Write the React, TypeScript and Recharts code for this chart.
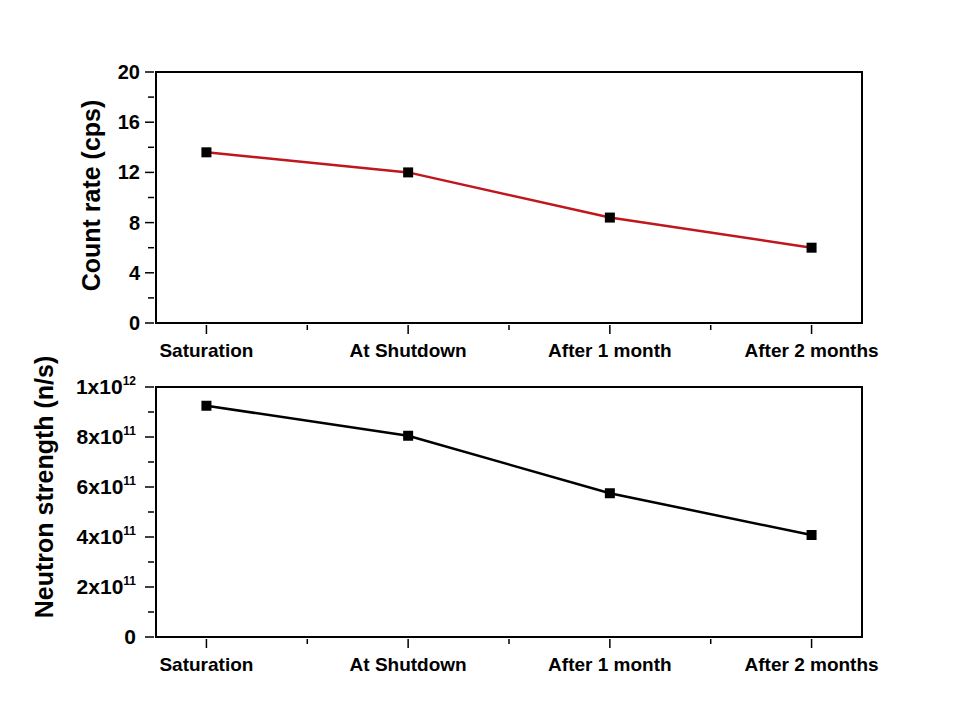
import { LineChart, Line, XAxis, YAxis, ReferenceArea } from "recharts";

// --- Data ---

const categories = ["Saturation", "At Shutdown", "After 1 month", "After 2 months"];
const countRate = [13.6, 12.0, 8.4, 6.0];
const neutronStrength = [9.25e11, 8.05e11, 5.75e11, 4.08e11];

// category positions sit on whole numbers, minor ticks halfway between
const xTicks = [0, 0.5, 1, 1.5, 2, 2.5, 3];
const xDomain: [number, number] = [-0.25, 3.25];
const countTicks = [0, 2, 4, 6, 8, 10, 12, 14, 16, 18, 20];
const neutronTicks = [0, 1e11, 2e11, 3e11, 4e11, 5e11, 6e11, 7e11, 8e11, 9e11, 1e12];

const rows = categories.map((name, i) => ({
  idx: i,
  name,
  count: countRate[i],
  neutron: neutronStrength[i],
}));

const FONT = '"Liberation Sans", Arial, Helvetica, sans-serif';

// --- Ticks ---

const CategoryTick = (props: any) => {
  const { x, y, payload } = props;
  const v = payload.value as number;
  const major = Number.isInteger(v);
  return (
    <g>
      <line x1={x} x2={x} y1={y} y2={y + (major ? 9 : 5)} stroke="#000" strokeWidth={1.5} />
      {major && (
        <text x={x} y={y + 32} textAnchor="middle" fontFamily={FONT} fontWeight="bold" fontSize={19} fill="#000">
          {categories[v]}
        </text>
      )}
    </g>
  );
};

const CountTick = (props: any) => {
  const { x, y, payload } = props;
  const v = payload.value as number;
  const major = v % 4 === 0;
  return (
    <g>
      <line x1={x - (major ? 9 : 6)} x2={x} y1={y} y2={y} stroke="#000" strokeWidth={1.5} />
      {major && (
        <text x={x - 14} y={y} dy="0.35em" textAnchor="end" fontFamily={FONT} fontWeight="bold" fontSize={20} fill="#000">
          {v}
        </text>
      )}
    </g>
  );
};

const NeutronTick = (props: any) => {
  const { x, y, payload } = props;
  const v = payload.value as number;
  const step = Math.round(v / 1e11);
  const major = step % 2 === 0;
  let label: any = "0";
  if (v > 0) {
    const exp = Math.floor(Math.log10(v) + 1e-9);
    const mant = Math.round(v / Math.pow(10, exp));
    label = (
      <>
        <tspan>{`${mant}x10`}</tspan>
        <tspan dy={-9} fontSize={12}>
          {exp}
        </tspan>
      </>
    );
  }
  return (
    <g>
      <line x1={x - (major ? 9 : 6)} x2={x} y1={y} y2={y} stroke="#000" strokeWidth={1.5} />
      {major && (
        <text x={x - 18} y={y} dy="0.35em" textAnchor="end" fontFamily={FONT} fontWeight="bold" fontSize={21} fill="#000">
          {label}
        </text>
      )}
    </g>
  );
};

// rotated axis title, placed relative to the y axis box
const AxisTitle = ({ viewBox, text, dx, dy }: any) => {
  const x = viewBox.x + viewBox.width + dx;
  const y = viewBox.y + viewBox.height / 2 + dy;
  return (
    <text
      x={x}
      y={y}
      transform={`rotate(-90, ${x}, ${y})`}
      textAnchor="middle"
      fontFamily={FONT}
      fontWeight="bold"
      fontSize={25}
      fill="#000"
    >
      {text}
    </text>
  );
};

const SquareDot = (props: any) => {
  const { cx, cy, index } = props;
  return <rect key={index} x={cx - 5} y={cy - 5} width={10} height={10} fill="#000" />;
};

const axisLine = { stroke: "#000", strokeWidth: 2 };

export default function App() {
  return (
    <div style={{ position: "absolute", left: 0, top: 0, width: 960, height: 720, background: "#fff" }}>
      {/* upper panel: count rate */}
      <div style={{ position: "absolute", left: 0, top: 0 }}>
        <LineChart width={960} height={365} data={rows} margin={{ top: 72, right: 98, bottom: 12, left: 96 }}>
          <XAxis
            dataKey="idx"
            type="number"
            domain={xDomain}
            ticks={xTicks}
            interval={0}
            height={30}
            tickSize={0}
            tickLine={false}
            axisLine={axisLine}
            tick={<CategoryTick />}
          />
          <YAxis
            type="number"
            domain={[0, 20]}
            ticks={countTicks}
            interval={0}
            width={60}
            tickSize={0}
            tickLine={false}
            axisLine={axisLine}
            tick={<CountTick />}
            label={<AxisTitle text="Count rate (cps)" dx={-56} dy={-2} />}
          />
          <ReferenceArea
            x1={xDomain[0]}
            x2={xDomain[1]}
            y1={0}
            y2={20}
            fill="none"
            stroke="#000"
            strokeWidth={2}
            ifOverflow="visible"
          />
          <Line
            type="linear"
            dataKey="count"
            stroke="#c0161e"
            strokeWidth={2.5}
            dot={SquareDot}
            activeDot={false}
            isAnimationActive={false}
          />
        </LineChart>
      </div>
      {/* lower panel: neutron strength, overlaps the upper svg's empty bottom strip */}
      <div style={{ position: "absolute", left: 0, top: 340 }}>
        <LineChart width={960} height={380} data={rows} margin={{ top: 47, right: 98, bottom: 53, left: 96 }}>
          <XAxis
            dataKey="idx"
            type="number"
            domain={xDomain}
            ticks={xTicks}
            interval={0}
            height={30}
            tickSize={0}
            tickLine={false}
            axisLine={axisLine}
            tick={<CategoryTick />}
          />
          <YAxis
            type="number"
            domain={[0, 1e12]}
            ticks={neutronTicks}
            interval={0}
            width={60}
            tickSize={0}
            tickLine={false}
            axisLine={axisLine}
            tick={<NeutronTick />}
            label={<AxisTitle text="Neutron strength (n/s)" dx={-103} dy={-25} />}
          />
          <ReferenceArea
            x1={xDomain[0]}
            x2={xDomain[1]}
            y1={0}
            y2={1e12}
            fill="none"
            stroke="#000"
            strokeWidth={2}
            ifOverflow="visible"
          />
          <Line
            type="linear"
            dataKey="neutron"
            stroke="#000"
            strokeWidth={2.5}
            dot={SquareDot}
            activeDot={false}
            isAnimationActive={false}
          />
        </LineChart>
      </div>
    </div>
  );
}
